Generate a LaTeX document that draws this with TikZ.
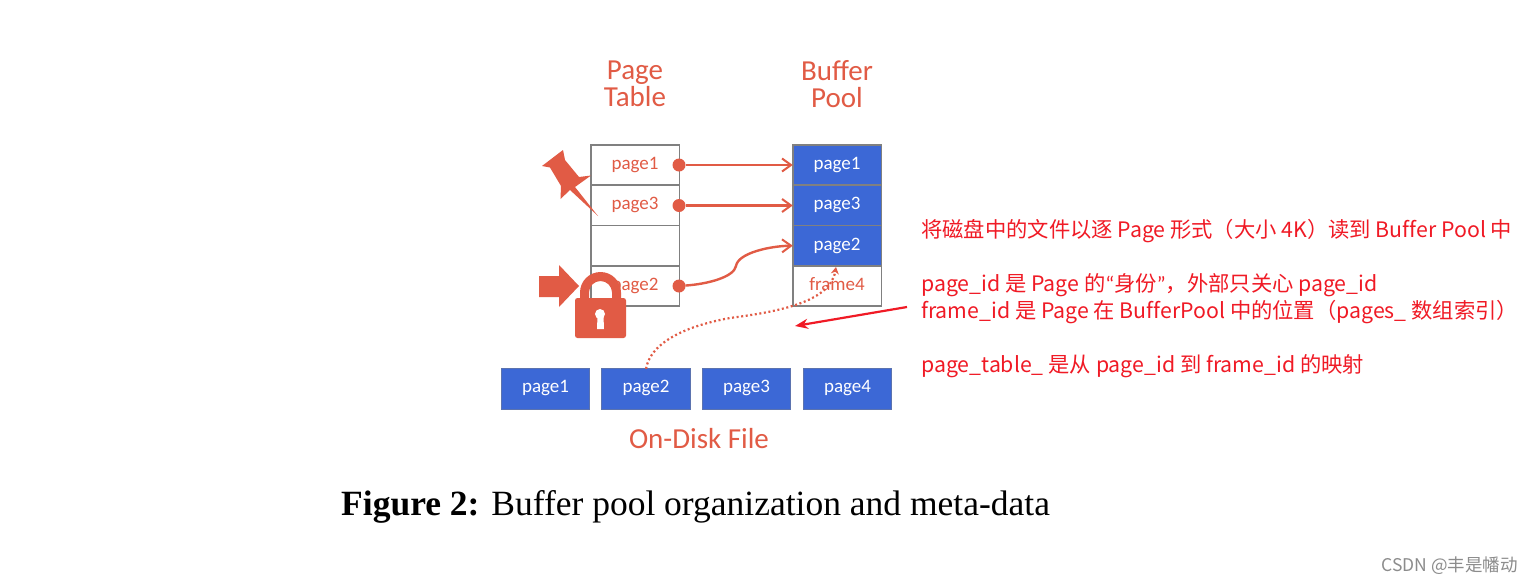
\documentclass[tikz,border=0pt]{standalone}
\usepackage{fontspec}
\setmainfont{Carlito}
\newfontfamily\cjkfont[Ligatures=NoCommon]{Noto Sans CJK SC}
\newfontfamily\capfont{Liberation Serif}
\usetikzlibrary{arrows.meta}
\definecolor{coral}{HTML}{E15B45}
\definecolor{poolblue}{HTML}{3C68D6}
\definecolor{cellgrey}{HTML}{808080}
\definecolor{notered}{HTML}{F01A25}
\newcommand{\openq}{{\rmfamily “}}
\newcommand{\closeq}{{\rmfamily ”}}
\tikzset{
 cellbox/.style={draw=cellgrey,line width=1.5pt,minimum width=88.5pt,minimum height=40.3pt,inner sep=0pt,outer sep=0pt,font=\fontsize{19}{19}\selectfont,anchor=center},
 tablecell/.style={cellbox,fill=white,text=coral},
 bluecell/.style={cellbox,fill=poolblue,text=white},
 diskcell/.style={bluecell,draw=cellgrey!45!poolblue,line width=1pt},
 headlabel/.style={text=coral,font=\fontsize{29}{27}\selectfont,align=center,inner sep=0pt},
 dotmark/.style={circle,fill=coral,minimum size=13pt,inner sep=0pt,outer sep=0pt},
 linkarrow/.style={draw=coral,line width=2.4pt,-{Straight Barb[length=9pt,width=13pt,line width=2pt]}},
 note/.style={text=notered,font=\cjkfont\fontsize{21.3}{24}\selectfont,anchor=base west,inner sep=0pt}
}
\begin{document}
\begin{tikzpicture}[x=1pt,y=-1pt]
\useasboundingbox[fill=white] (0,0) rectangle (1532,584);
\node[headlabel] (pthead) at (635,84) {Page\\Table};
\node[headlabel] (bphead) at (837,84) {Buffer\\Pool};
\node[tablecell] (t1) at (635,165) {\raisebox{3.5pt}{page1}};
\node[tablecell] (t2) at (635,205.5) {\raisebox{3.5pt}{page3}};
\node[tablecell] (t3) at (635,245.7) {};
\node[tablecell] (t4) at (635,286) {\raisebox{3.5pt}{page2}};
\node[bluecell] (b1) at (837,165) {\raisebox{3.5pt}{page1}};
\node[bluecell] (b2) at (837,205.5) {\raisebox{3.5pt}{page3}};
\node[bluecell] (b3) at (837,245.7) {\raisebox{3.5pt}{page2}};
\node[tablecell] (b4) at (837,286) {\raisebox{3.5pt}{frame4}};
\node[diskcell] (d1) at (545.5,389) {\raisebox{4.5pt}{page1}};
\node[diskcell] (d2) at (646,389) {\raisebox{4.5pt}{page2}};
\node[diskcell] (d3) at (746.5,389) {\raisebox{4.5pt}{page3}};
\node[diskcell] (d4) at (847.5,389) {\raisebox{4.5pt}{page4}};
\node[headlabel] (disk) at (699,439) {On-Disk File};
\node[dotmark] (o1) at (679,165) {};
\node[dotmark] (o2) at (679,205.5) {};
\node[dotmark] (o3) at (679,286) {};
\draw[linkarrow] (o1) -- (b1.west);
\draw[linkarrow] (o2) -- (b2.west);
\draw[linkarrow] (o3) .. controls (708,284) and (734,277) .. (736,266) .. controls (738,253) and (770,246) .. (b3.west);
\draw[coral,line width=2.2pt,dash pattern=on 2pt off 2.6pt,-{Stealth[length=7pt,width=8pt]}] (d2.north) .. controls (650,345) and (680,327) .. (730,318) .. controls (775,312) and (830,303) .. (836,267);
\coordinate (noteA) at (907,307);
\coordinate (noteB) at (795,326);
\draw[notered,line width=2.2pt,-{Stealth[length=13pt,width=10pt]}] (noteA) -- (noteB);
% pin
\fill[coral] (542,166) -- (563,150) -- (565,160) -- (579,177) -- (591,175.5) -- (575,187) -- (598,216) -- (570,190) -- (560.5,199) -- (561,186) -- (550,167.5) -- cycle;
% block arrow
\fill[coral] (539,276) -- (559,276) -- (559,265) -- (579,286) -- (559,307) -- (559,297) -- (539,297) -- cycle;
% lock
\fill[coral] (580,300) -- (580,292.5) arc[start angle=-180,end angle=0,radius=20.5] -- (621,300) -- (612,300) -- (612,292.5) arc[start angle=0,end angle=-180,radius=11.5] -- (589,300) -- cycle;
\fill[coral,rounded corners=2.5pt] (575,298) rectangle (626,338);
\fill[white] (600,314) circle[radius=5];
\fill[white] (597.5,316) -- (603.5,316) -- (604,329) -- (597,329) -- cycle;
% notes
\node[note] (n1) at (921,237) {将磁盘中的文件以逐 Page 形式（大小 4K）读到 Buffer Pool 中};
\node[note] (n2) at (921,291) {page\_id 是 Page 的\openq 身份\closeq ，外部只关心 page\_id};
\node[note] (n3) at (921,318) {frame\_id 是 Page 在 BufferPool 中的位置（pages\_ 数组索引）};
\node[note] (n4) at (921,372) {page\_table\_ 是从 page\_id 到 frame\_id 的映射};
\node[anchor=base west,inner sep=0pt,font=\capfont\fontsize{35.5}{36}\selectfont] (cap) at (341,515) {\textbf{Figure 2:} Buffer pool organization and meta-data};
\node[anchor=base east,inner sep=0pt,text=black!45,font=\cjkfont\fontsize{17.5}{17}\selectfont] (wm) at (1518,571) {CSDN @丰是幡动};
\end{tikzpicture}
\end{document}
